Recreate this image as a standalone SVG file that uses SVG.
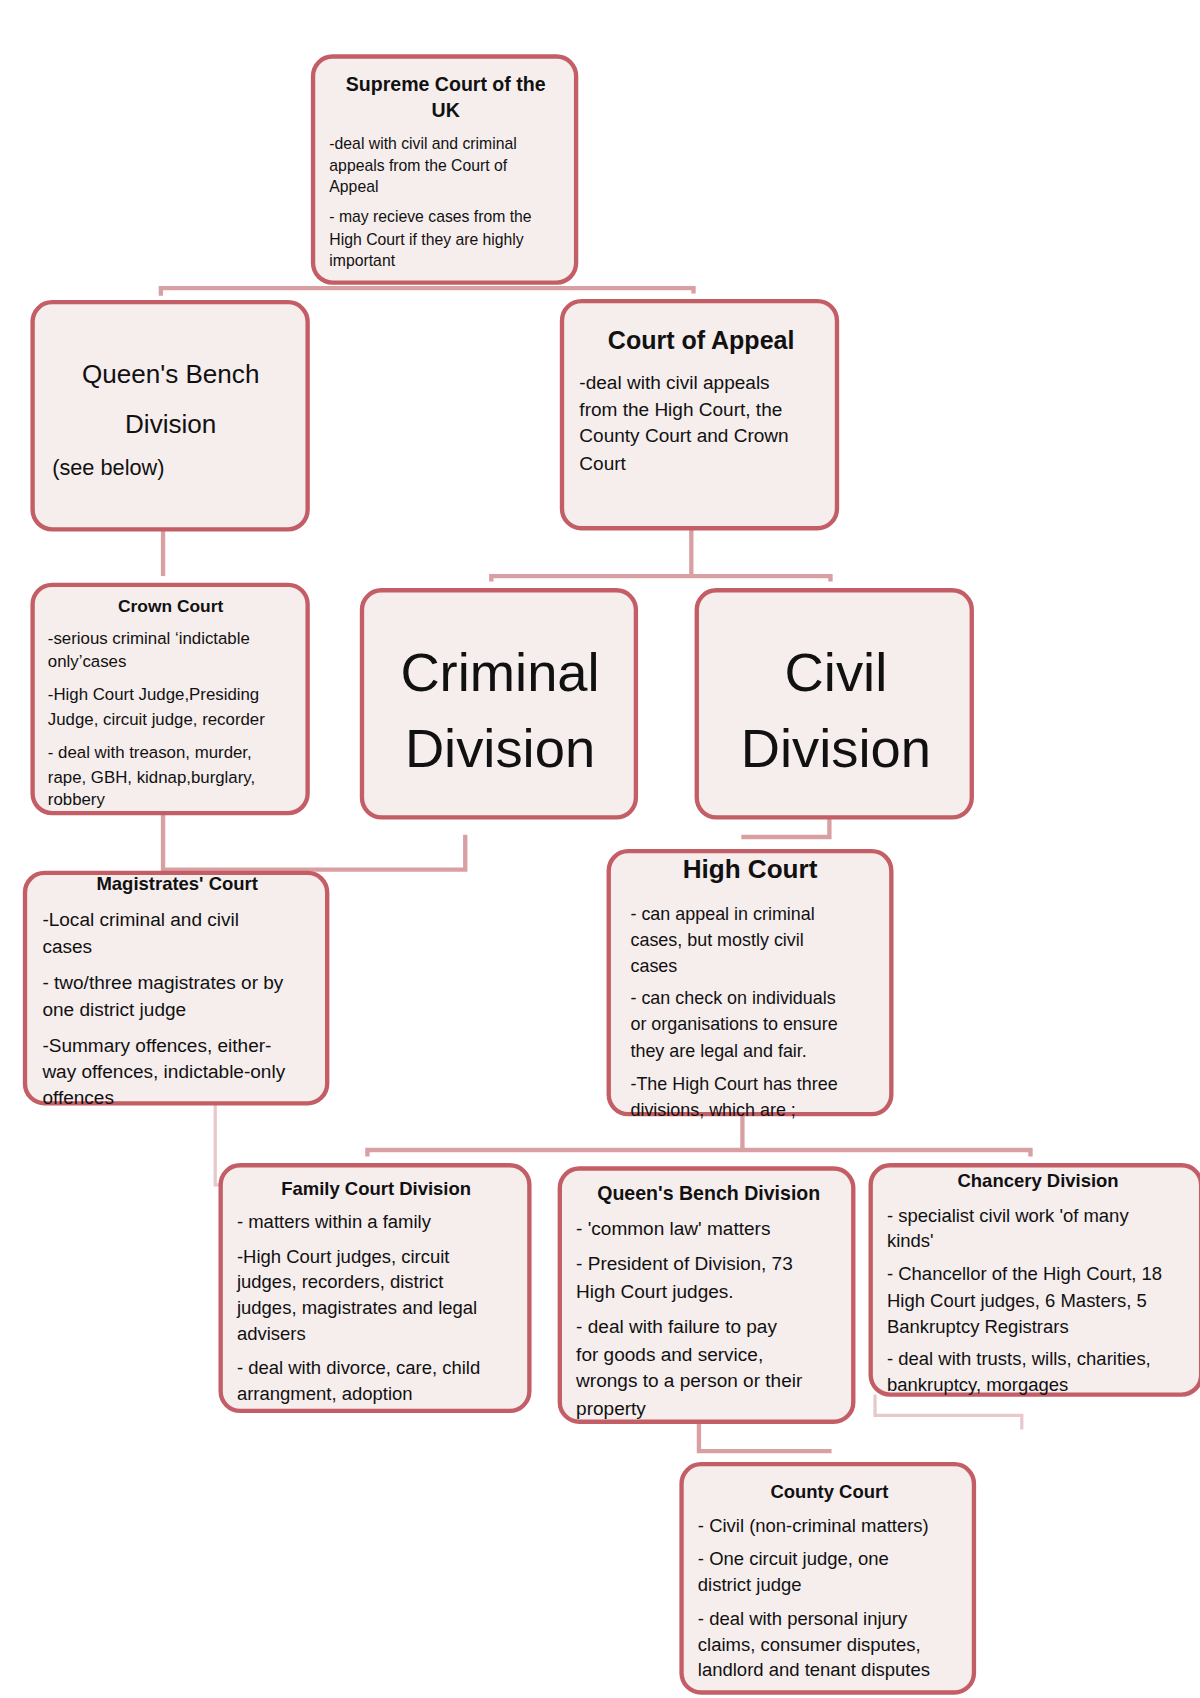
<svg xmlns="http://www.w3.org/2000/svg" width="1200" height="1698" viewBox="0 0 1200 1698">
<style>
.box{fill:#f6eded;stroke:#c45e66;stroke-width:4}
.in{fill:none;stroke:#e9cfd1;stroke-width:3}
.ln{fill:none;stroke:#d9a0a4;stroke-width:4}
.lt{fill:none;stroke:#e8c8ca;stroke-width:3}
text{font-family:"Liberation Sans Narrow","Liberation Sans",Arial,sans-serif;fill:#111}
.t{font-weight:bold;text-anchor:middle}
</style>
<rect width="1200" height="1698" fill="#fff"/>
<g transform="scale(1.087)">
<g id="connectors">
<path class="ln" d="M148 272V265H638V270"/>
<path class="ln" d="M150 487V530"/>
<path class="ln" d="M636 487V530M452 535V530H764V535"/>
<path class="ln" d="M150 748V800H428V768"/>
<path class="lt" d="M198 1010V1090H205"/>
<path class="ln" d="M763 752V770H682"/>
<path class="ln" d="M683 1025V1058M338 1064V1058H948V1064"/>
<path class="lt" d="M805 1283V1302H940V1315"/>
<path class="ln" d="M643 1308V1335H765"/>
</g>
<g id="supreme"><rect class="box" x="288" y="52" width="242" height="208" rx="18"/>
<text class="t" font-size="18"><tspan x="410" y="84">Supreme Court of the</tspan><tspan x="410" y="108">UK</tspan></text>
<text font-size="14.5"><tspan x="303" y="137">-deal with civil and criminal</tspan><tspan x="303" y="157">appeals from the Court of</tspan><tspan x="303" y="177">Appeal</tspan><tspan x="303" y="204">- may recieve cases from the</tspan><tspan x="303" y="225">High Court if they are highly</tspan><tspan x="303" y="245">important</tspan></text></g>
<g id="qbd"><rect class="box" x="30" y="278" width="253" height="209" rx="18"/>
<text font-size="24" text-anchor="middle"><tspan x="157" y="352">Queen's Bench</tspan><tspan x="157" y="398">Division</tspan></text>
<text font-size="20" x="48" y="437">(see below)</text></g>
<g id="appeal"><rect class="box" x="517" y="277" width="253" height="209" rx="18"/>
<text class="t" font-size="23" x="645" y="321">Court of Appeal</text>
<text font-size="17.5"><tspan x="533" y="358">-deal with civil appeals</tspan><tspan x="533" y="383">from the High Court, the</tspan><tspan x="533" y="407">County Court and Crown</tspan><tspan x="533" y="432">Court</tspan></text></g>
<g id="crown"><rect class="box" x="30" y="538" width="253" height="210" rx="18"/>
<text class="t" font-size="16" x="157" y="563">Crown Court</text>
<text font-size="15.5"><tspan x="44" y="592">-serious criminal  ‘indictable</tspan><tspan x="44" y="614">only’cases</tspan><tspan x="44" y="644">-High Court Judge,Presiding</tspan><tspan x="44" y="667">Judge, circuit judge, recorder</tspan><tspan x="44" y="697">- deal with treason, murder,</tspan><tspan x="44" y="720">rape, GBH, kidnap,burglary,</tspan><tspan x="44" y="741">robbery</tspan></text></g>
<g id="criminal"><rect class="box" x="333" y="543" width="252" height="209" rx="18"/>
<text font-size="50" text-anchor="middle"><tspan x="460" y="636">Criminal</tspan><tspan x="460" y="706">Division</tspan></text></g>
<g id="civil"><rect class="box" x="641" y="543" width="253" height="209" rx="18"/>
<text font-size="50" text-anchor="middle"><tspan x="769" y="636">Civil</tspan><tspan x="769" y="706">Division</tspan></text></g>
<g id="magistrates"><rect class="box" x="23" y="803" width="278" height="212" rx="18"/>
<text class="t" font-size="17" x="163" y="819">Magistrates' Court</text>
<text font-size="17.5"><tspan x="39" y="852">-Local criminal and civil</tspan><tspan x="39" y="877">cases</tspan><tspan x="39" y="910">- two/three magistrates or by</tspan><tspan x="39" y="935">one district judge</tspan><tspan x="39" y="968">-Summary offences, either-</tspan><tspan x="39" y="992">way offences, indictable-only</tspan><tspan x="39" y="1016">offences</tspan></text></g>
<g id="high"><rect class="box" x="560" y="783" width="260" height="242" rx="18"/>
<text class="t" font-size="24" x="690" y="808">High Court</text>
<text font-size="16.5"><tspan x="580" y="846">- can appeal in criminal</tspan><tspan x="580" y="870">cases, but mostly  civil</tspan><tspan x="580" y="894">cases</tspan><tspan x="580" y="924">- can check on individuals</tspan><tspan x="580" y="948">or organisations to ensure</tspan><tspan x="580" y="972">they are legal and fair.</tspan><tspan x="580" y="1003">-The High Court has three</tspan><tspan x="580" y="1027">divisions, which are ;</tspan></text></g>
<g id="family"><rect class="box" x="203" y="1072" width="284" height="226" rx="18"/>
<text class="t" font-size="17" x="346" y="1099">Family Court Division</text>
<text font-size="17"><tspan x="218" y="1130">- matters within a family</tspan><tspan x="218" y="1162">-High Court judges, circuit</tspan><tspan x="218" y="1185">judges, recorders, district</tspan><tspan x="218" y="1209">judges, magistrates and legal</tspan><tspan x="218" y="1233">advisers</tspan><tspan x="218" y="1264">- deal with divorce, care, child</tspan><tspan x="218" y="1288">arrangment, adoption</tspan></text></g>
<g id="qbd2"><rect class="box" x="515" y="1075" width="270" height="233" rx="18"/>
<text class="t" font-size="18" x="652" y="1104">Queen's Bench Division</text>
<text font-size="17.5"><tspan x="530" y="1136">- 'common law' matters</tspan><tspan x="530" y="1168">- President of Division, 73</tspan><tspan x="530" y="1194">High Court judges.</tspan><tspan x="530" y="1226">- deal with  failure to pay</tspan><tspan x="530" y="1252">for goods and service,</tspan><tspan x="530" y="1276">wrongs to a person or their</tspan><tspan x="530" y="1302">property</tspan></text></g>
<g id="chancery"><rect class="box" x="801" y="1072" width="304" height="211" rx="18"/>
<text class="t" font-size="17" x="955" y="1092">Chancery Division</text>
<text font-size="17"><tspan x="816" y="1124">- specialist civil work 'of many</tspan><tspan x="816" y="1147">kinds'</tspan><tspan x="816" y="1178">- Chancellor of the High Court, 18</tspan><tspan x="816" y="1202">High Court judges, 6 Masters, 5</tspan><tspan x="816" y="1226">Bankruptcy Registrars</tspan><tspan x="816" y="1256">- deal with trusts, wills, charities,</tspan><tspan x="816" y="1280">bankruptcy, morgages</tspan></text></g>
<g id="county"><rect class="box" x="627" y="1347" width="269" height="210" rx="18"/>
<text class="t" font-size="17" x="763" y="1378">County Court</text>
<text font-size="17"><tspan x="642" y="1409">- Civil (non-criminal matters)</tspan><tspan x="642" y="1440">- One circuit judge, one</tspan><tspan x="642" y="1464">district judge</tspan><tspan x="642" y="1495">- deal with personal injury</tspan><tspan x="642" y="1519">claims, consumer disputes,</tspan><tspan x="642" y="1542">landlord and tenant disputes</tspan></text></g>
</g>
</svg>
